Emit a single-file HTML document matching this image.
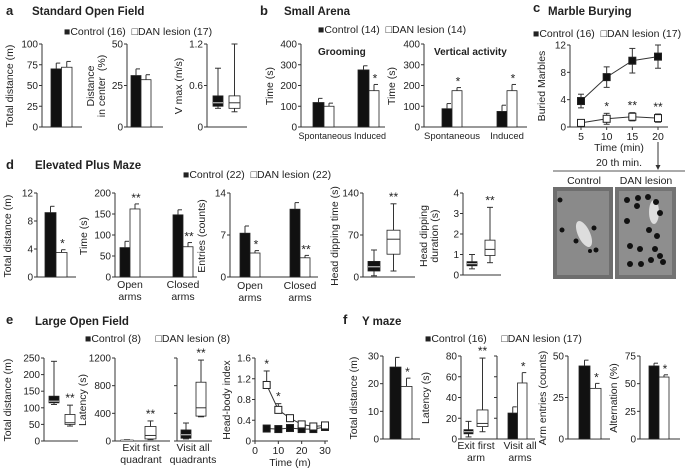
<!DOCTYPE html>
<html><head><meta charset="utf-8"><style>
body{margin:0;background:#fff}
svg{font-family:"Liberation Sans",Arial,sans-serif;display:block}
text{white-space:pre}
</style></head><body>
<svg id="fig" width="685" height="471" viewBox="0 0 685 471" xmlns="http://www.w3.org/2000/svg">
<rect width="685" height="471" fill="#fff"/>
<g font-weight="bold" font-size="13" fill="#222">
<text x="6" y="15">a</text>
<text x="260" y="15">b</text>
<text x="533" y="12">c</text>
<text x="6" y="169">d</text>
<text x="6" y="324">e</text>
<text x="343" y="324">f</text>
</g>
<g font-weight="bold" font-size="11.5" fill="#222">
<text x="32" y="15">Standard Open Field</text>
<text x="284" y="15">Small Arena</text>
<text x="548" y="15">Marble Burying</text>
<text x="35" y="169">Elevated Plus Maze</text>
<text x="35" y="325">Large Open Field</text>
<text x="362" y="325">Y maze</text>
<text x="318" y="55" font-size="10">Grooming</text>
<text x="434" y="55" font-size="10">Vertical activity</text>
</g>
<g font-size="10.5" fill="#222">
<text x="64" y="35">■Control (16)  □DAN lesion (17)</text>
<text x="318" y="33">■Control (14)  □DAN lesion (14)</text>
<text x="533" y="37">■Control (16)  □DAN lesion (17)</text>
<text x="183" y="178">■Control (22)  □DAN lesion (22)</text>
<text x="85" y="342">■Control (8)     □DAN lesion (8)</text>
<text x="425" y="342">■Control (16)     □DAN lesion (17)</text>
</g>
<g>
<text x="619" y="166" font-size="10.5" text-anchor="middle" fill="#222">20 th min.</text>
<line x1="553" y1="171" x2="686" y2="171" stroke="#555"/>
<line x1="658" y1="142" x2="658" y2="168" stroke="#333"/>
<path d="M655.5,165 L658,170 L660.5,165Z" fill="#333"/>
<text x="584" y="184" font-size="10.5" text-anchor="middle" fill="#222">Control</text>
<text x="646" y="184" font-size="10.5" text-anchor="middle" fill="#222">DAN lesion</text>
<rect x="553" y="187" width="60" height="92" fill="#6e6e6e"/>
<rect x="615" y="187" width="61" height="92" fill="#737373"/>
<rect x="557" y="191" width="52" height="84" fill="#8a8a8a"/>
<rect x="619" y="191" width="53" height="84" fill="#8e8e8e"/>
<ellipse cx="584" cy="234" rx="6" ry="14" fill="#ddd" transform="rotate(-25 584 234)"/>
<ellipse cx="654" cy="212" rx="5" ry="12" fill="#ddd"/>
<g fill="#111">
<circle cx="560" cy="200" r="2.5"/><circle cx="562" cy="230" r="2.5"/><circle cx="576" cy="241" r="2.5"/><circle cx="594" cy="228" r="2.5"/><circle cx="596" cy="250" r="2.5"/><circle cx="590" cy="251" r="2"/>
<circle cx="627" cy="200" r="3"/><circle cx="638" cy="198" r="3"/><circle cx="648" cy="197" r="3"/><circle cx="637" cy="206" r="3"/><circle cx="656" cy="202" r="3"/><circle cx="660" cy="213" r="3"/><circle cx="627" cy="221" r="3"/><circle cx="649" cy="230" r="3"/><circle cx="657" cy="236" r="3"/><circle cx="630" cy="246" r="3"/><circle cx="640" cy="249" r="3"/><circle cx="655" cy="249" r="3"/><circle cx="660" cy="256" r="3"/><circle cx="663" cy="262" r="3"/><circle cx="630" cy="264" r="3"/><circle cx="641" cy="264" r="3"/><circle cx="651" cy="260" r="3"/>
</g>
</g>
<g id="plots"></g>
</svg>
<script>
// ---- data ----
const aDistMeans=[70,72], aDistErr=[7,7];
const aCenterMeans=[31,28.5], aCenterErr=[4,3];
const aVmaxCtrl=[0.27,0.3,0.35,0.45,0.85], aVmaxLes=[0.22,0.27,0.35,0.45,1.2];
const bCategories=["Spontaneous","Induced"];
const bGroomCtrl=[118,275], bGroomCtrlErr=[20,20], bGroomLes=[100,175], bGroomLesErr=[15,30];
const bVertCtrl=[88,75], bVertCtrlErr=[25,30], bVertLes=[175,175], bVertLesErr=[15,30];
const cTimes=[5,10,15,20];
const cCtrl=[3.8,7.3,9.7,10.3], cCtrlErr=[1,1.5,1.8,1.7];
const cLes=[0.6,1.2,1.5,1.3], cLesErr=[0.4,0.8,0.6,0.6];
const cStars=["","*","**","**"];
const dDistMeans=[9.2,3.5], dDistErr=[0.9,0.4];
const dCategories=["Open","Closed"];
const dTimeCtrl=[70,148], dTimeCtrlErr=[15,12], dTimeLes=[162,72], dTimeLesErr=[12,10];
const dEntCtrl=[7.3,11.3], dEntCtrlErr=[1.2,1.1], dEntLes=[4,3.2], dEntLesErr=[0.4,0.4];
const dHeadTimeCtrl=[2,10,17,26,45], dHeadTimeLes=[10,38,63,78,122];
const dHeadDurCtrl=[0.3,0.45,0.55,0.65,1.0], dHeadDurLes=[0.6,0.95,1.25,1.7,3.3];
const eDistCtrl=[110,115,120,135,240], eDistLes=[45,50,55,80,108];
const eExitCtrl=[2,5,10,15,20], eExitLes=[20,30,80,210,290];
const eVisitCtrl=[30,40,90,160,260], eVisitLes=[350,360,480,850,1170];
const eTimes=[5,10,15,20,25,30];
const eHbCtrl=[0.24,0.23,0.25,0.23,0.23,0.27];
const eHbLes=[1.08,0.6,0.44,0.32,0.28,0.3], eHbLesErr=[0.27,0.12,0.03,0.02,0.02,0.05];
const fDistMeans=[26,19], fDistErr=[3.5,3];
const fExitCtrl=[2,5,7,9,17], fExitLes=[7,12,15,28,78];
const fVisitMeans=[25,54], fVisitErr=[6,10];
const fEntMeans=[44,30.5], fEntErr=[3.5,3];
const fAltMeans=[66,56], fAltErr=[2.5,2];

// ---- helpers ----
const NS="http://www.w3.org/2000/svg";
const root=document.getElementById('plots');
const TICK=10, LBL=10.5;
function el(tag,attrs,parent){const e=document.createElementNS(NS,tag);for(const k in attrs)e.setAttribute(k,attrs[k]);(parent||root).appendChild(e);return e;}
function txt(x,y,s,anchor,size,name,extra){
  const t=el('text',Object.assign({x:x,y:y,'font-size':size||11,'text-anchor':anchor||'middle',fill:'#222'},extra||{}));
  t.textContent=s;
  
  
  return t;
}
function axis(name,ax,y0,ytop,xend,max,ticks,labels){
  const g=el('g',{});
  
  
  el('line',{x1:ax,y1:ytop,x2:ax,y2:y0,stroke:'#333','stroke-width':1},g);
  el('line',{x1:ax,y1:y0,x2:xend,y2:y0,stroke:'#333','stroke-width':1},g);
  const sc=v=>y0-v/max*(y0-ytop);
  ticks.forEach(t=>{
    el('line',{x1:ax-3,y1:sc(t),x2:ax,y2:sc(t),stroke:'#333'},g);
    if(labels!==false){
      const tl=txt(ax-4,sc(t)+3.5,String(t),'end',TICK,'y-tick-label');
      g.appendChild(tl);
    }
  });
  return sc;
}
function ylabel(x,yc,s,name){
  return txt(x,yc,s,'middle',LBL,name,{transform:'rotate(-90 '+x+' '+yc+')'});
}
function bar(sc,x,w,v,err,dark,name,star){
  const r=el('rect',{x:x,y:sc(v),width:w,height:sc(0)-sc(v),fill:dark?'#111':'#fff',stroke:'#222','stroke-width':0.8});
  
  
  const cx=x+w/2, ye=sc(v+err);
  el('line',{x1:cx,y1:sc(v),x2:cx,y2:ye,stroke:'#333'});
  el('line',{x1:cx,y1:ye,x2:cx+4,y2:ye,stroke:'#333'});
  if(star){txt(cx+1,ye-2,star,'middle',12,'significance-star');}
}
function box(sc,x,w,s,dark,name,star){
  const cx=x+w/2;
  el('line',{x1:cx,y1:sc(s[0]),x2:cx,y2:sc(s[4]),stroke:'#333'});
  el('line',{x1:cx-3,y1:sc(s[0]),x2:cx+3,y2:sc(s[0]),stroke:'#333'});
  el('line',{x1:cx-3,y1:sc(s[4]),x2:cx+3,y2:sc(s[4]),stroke:'#333'});
  const r=el('rect',{x:x,y:sc(s[3]),width:w,height:Math.max(1,sc(s[1])-sc(s[3])),fill:dark?'#111':'#fff',stroke:'#222','stroke-width':0.8});
  
  
  el('line',{x1:x,y1:sc(s[2]),x2:x+w,y2:sc(s[2]),stroke:dark?'#ddd':'#333','stroke-width':1});
  if(star){txt(cx,sc(s[4])-3,star,'middle',12,'significance-star');}
}
function series(xf,sc,vals,errs,dark,name,stars,twoSided){
  const p=vals.map((v,i)=>xf[i]+','+sc(v)).join(' ');
  const pl=el('polyline',{points:p,fill:'none',stroke:'#333','stroke-width':1});
  
  
  vals.forEach((v,i)=>{
    if(errs){const e=errs[i];el('line',{x1:xf[i],y1:sc(v+e),x2:xf[i],y2:twoSided?sc(Math.max(0,v-e)):sc(v),stroke:'#333'});
      el('line',{x1:xf[i]-3,y1:sc(v+e),x2:xf[i]+3,y2:sc(v+e),stroke:'#333'});
      if(twoSided)el('line',{x1:xf[i]-3,y1:sc(Math.max(0,v-e)),x2:xf[i]+3,y2:sc(Math.max(0,v-e)),stroke:'#333'});}
    const m=el('rect',{x:xf[i]-3.5,y:sc(v)-3.5,width:7,height:7,fill:dark?'#111':'#fff',stroke:'#222'});
    
    
    if(stars&&stars[i])txt(xf[i],sc(v+(errs?errs[i]:0))-3,stars[i],'middle',12,'significance-star');
  });
}

// ---- panel a ----
let s=axis('axis-a-distance',42,127,44,82,100,[0,25,50,75,100]);
ylabel(13,86,'Total distance (m)','y-axis-title-a-distance');
aDistMeans.forEach((v,i)=>bar(s,51+i*10.5,10.5,v,aDistErr[i],i===0,i===0?'bar-a-distance-control':'bar-a-distance-lesion'));
s=axis('axis-a-center',127,127,44,163,50,[0,25,50]);
ylabel(94,86,'Distance','y-axis-title-a-center-1');ylabel(105,86,'in center  (%)','y-axis-title-a-center-2');
aCenterMeans.forEach((v,i)=>bar(s,131+i*10,10,v,aCenterErr[i],i===0,i===0?'bar-a-center-control':'bar-a-center-lesion'));
s=axis('axis-a-vmax',207,127,44,247,1.2,[0,0.6,1.2]);
ylabel(182,86,'V max (m/s)','y-axis-title-a-vmax');
box(s,213,10,aVmaxCtrl,true,'box-a-vmax-control');box(s,229,11,aVmaxLes,false,'box-a-vmax-lesion');

// ---- panel b ----
s=axis('axis-b-grooming',301,127,44,385,400,[0,100,200,300,400]);
ylabel(273,86,'Time (s)','y-axis-title-b-grooming');
bCategories.forEach((c,i)=>{const x=313+i*45;
  bar(s,x,11,bGroomCtrl[i],bGroomCtrlErr[i],true,'bar-b-grooming-control-'+i);
  bar(s,x+11,10,bGroomLes[i],bGroomLesErr[i],false,'bar-b-grooming-lesion-'+i,i===1?'*':'');
  txt(x+12,139,c,'middle',9,'x-tick-label-b-grooming');});
s=axis('axis-b-vertical',424,127,44,527,400,[0,100,200,300,400]);
ylabel(395,86,'Time (s)','y-axis-title-b-vertical');
bCategories.forEach((c,i)=>{const x=442+i*55;
  bar(s,x,10,bVertCtrl[i],bVertCtrlErr[i],true,'bar-b-vertical-control-'+i);
  bar(s,x+10,10,bVertLes[i],bVertLesErr[i],false,'bar-b-vertical-lesion-'+i,'*');
  txt(x+10,139,c,'middle',9.5,'x-tick-label-b-vertical');});

// ---- panel c ----
s=axis('axis-c-marbles',570,127,45,668,12,[0,4,8,12]);
ylabel(545,86,'Buried Marbles','y-axis-title-c');
const cx=t=>581+(t-5)/15*77;
cTimes.forEach(t=>{el('line',{x1:cx(t),y1:127,x2:cx(t),y2:130,stroke:'#333'});txt(cx(t),140,String(t),'middle',TICK+0.5,'x-tick-label-c');});
txt(619,151,'Time (min)','middle',LBL,'x-axis-title-c');
series(cTimes.map(cx),s,cCtrl,cCtrlErr,true,'line-c-control',null,true);
series(cTimes.map(cx),s,cLes,cLesErr,false,'line-c-lesion',cStars,true);

// ---- panel d ----
s=axis('axis-d-distance',37,277,193,76,12,[0,4,8,12]);
ylabel(11,236,'Total distance (m)','y-axis-title-d-distance');
dDistMeans.forEach((v,i)=>bar(s,45+i*11,11,v,dDistErr[i],i===0,'bar-d-distance-'+i,i===1?'*':''));
s=axis('axis-d-time',115,277,193,197,200,[0,50,100,150,200]);
ylabel(87,236,'Time (s)','y-axis-title-d-time');
dCategories.forEach((c,i)=>{const x=120+i*53;
  bar(s,x,10,dTimeCtrl[i],dTimeCtrlErr[i],true,'bar-d-time-control-'+i);
  bar(s,x+10,10,dTimeLes[i],dTimeLesErr[i],false,'bar-d-time-lesion-'+i,'**');
  txt(x+10,288,c,'middle',LBL,'x-tick-label-d-time');txt(x+10,300,'arms','middle',LBL,'x-tick-label-d-time-2');});
s=axis('axis-d-entries',230,277,193,318,14,[0,7,14]);
ylabel(205,236,'Entries (counts)','y-axis-title-d-entries');
dCategories.forEach((c,i)=>{const x=240+i*50;
  bar(s,x,10,dEntCtrl[i],dEntCtrlErr[i],true,'bar-d-entries-control-'+i);
  bar(s,x+10,10,dEntLes[i],dEntLesErr[i],false,'bar-d-entries-lesion-'+i,i===0?'*':'**');
  txt(x+10,289,c,'middle',LBL,'x-tick-label-d-entries');txt(x+10,301,'arms','middle',LBL,'x-tick-label-d-entries-2');});
s=axis('axis-d-headtime',363,277,193,415,140,[0,70,140]);
ylabel(338,236,'Head dipping time (s)','y-axis-title-d-headtime');
box(s,368,12,dHeadTimeCtrl,true,'box-d-headtime-control');box(s,387,13,dHeadTimeLes,false,'box-d-headtime-lesion','**');
s=axis('axis-d-headdur',463,275,193,501,4,[0,1,2,3,4]);
ylabel(427,236,'Head dipping','y-axis-title-d-headdur-1');ylabel(438,236,'duration (s)','y-axis-title-d-headdur-2');
box(s,467,10,dHeadDurCtrl,true,'box-d-headdur-control');box(s,485,10,dHeadDurLes,false,'box-d-headdur-lesion','**');

// ---- panel e ----
s=axis('axis-e-distance',44,441,358,78,250,[0,50,100,150,200,250]);
ylabel(11,400,'Total distance (m)','y-axis-title-e-distance');
box(s,49,10,eDistCtrl,true,'box-e-distance-control');box(s,65,10,eDistLes,false,'box-e-distance-lesion','**');
s=axis('axis-e-latency',115,441,358,170,1200,[0,400,800,1200]);
ylabel(86,400,'Latency (s)','y-axis-title-e-latency');
box(s,121,12,eExitCtrl,true,'box-e-exit-control');box(s,145,11,eExitLes,false,'box-e-exit-lesion','**');
txt(141,451,'Exit first','middle',LBL,'x-tick-label-e-exit');txt(141,463,'quadrant','middle',LBL,'x-tick-label-e-exit-2');
s=axis('axis-e-latency-2',177,441,358,212,1200,[0,400,800,1200],false);
box(s,181,10,eVisitCtrl,true,'box-e-visit-control');box(s,196,10,eVisitLes,false,'box-e-visit-lesion','**');
txt(193,451,'Visit all','middle',LBL,'x-tick-label-e-visit');txt(193,463,'quadrants','middle',LBL,'x-tick-label-e-visit-2');
s=axis('axis-e-headbody',255,441,358,328,1.6,[0,0.4,0.8,1.2,1.6]);
ylabel(230,400,'Head-body index','y-axis-title-e-headbody');
const ex=t=>255+t/30*70;
[0,10,20,30].forEach(t=>{el('line',{x1:ex(t),y1:441,x2:ex(t),y2:444,stroke:'#333'});txt(ex(t),454,String(t),'middle',TICK+0.5,'x-tick-label-e-headbody');});
txt(290,466,'Time (m)','middle',LBL,'x-axis-title-e-headbody');
series(eTimes.map(ex),s,eHbCtrl,null,true,'line-e-control');
series(eTimes.map(ex),s,eHbLes,eHbLesErr,false,'line-e-lesion',['*','*','','','','']);

// ---- panel f ----
s=axis('axis-f-distance',383,439,356,420,30,[0,10,20,30]);
ylabel(357,398,'Total distance (m)','y-axis-title-f-distance');
fDistMeans.forEach((v,i)=>bar(s,390+i*11,11,v,fDistErr[i],i===0,'bar-f-distance-'+i,i===1?'*':''));
s=axis('axis-f-latency',461,439,356,495,80,[0,20,40,60,80]);
ylabel(429,398,'Latency (s)','y-axis-title-f-latency');
box(s,464,9,fExitCtrl,true,'box-f-exit-control');box(s,477,11,fExitLes,false,'box-f-exit-lesion','**');
txt(476,449,'Exit first','middle',LBL,'x-tick-label-f-exit');txt(476,461,'arm','middle',LBL,'x-tick-label-f-exit-2');
s=axis('axis-f-latency-2',497,439,356,535,80,[0,20,40,60,80],false);
fVisitMeans.forEach((v,i)=>bar(s,508+i*9.5,9.5,v,fVisitErr[i],i===0,'bar-f-visit-'+i,i===1?'*':''));
txt(520,449,'Visit all','middle',LBL,'x-tick-label-f-visit');txt(520,461,'arms','middle',LBL,'x-tick-label-f-visit-2');
s=axis('axis-f-entries',568,439,356,610,50,[0,25,50]);
ylabel(546,398,'Arm entries (counts)','y-axis-title-f-entries');
fEntMeans.forEach((v,i)=>bar(s,579+i*11,11,v,fEntErr[i],i===0,'bar-f-entries-'+i,i===1?'*':''));
s=axis('axis-f-alternation',640,439,356,680,75,[0,25,50,75]);
ylabel(617,398,'Alternation (%)','y-axis-title-f-alternation');
fAltMeans.forEach((v,i)=>bar(s,649+i*10,10,v,fAltErr[i],i===0,'bar-f-alternation-'+i,i===1?'*':''));
</script>
</body></html>
